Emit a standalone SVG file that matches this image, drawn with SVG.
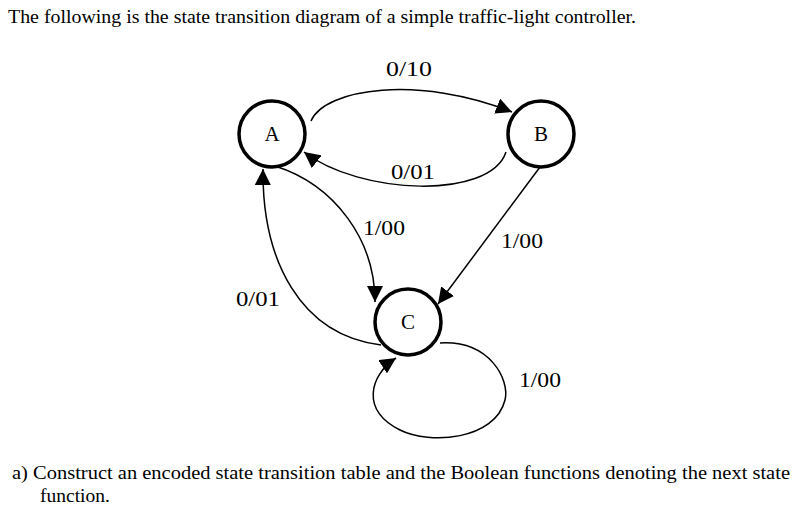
<svg xmlns="http://www.w3.org/2000/svg" width="811" height="514" viewBox="0 0 811 514">
<style>
text{font-family:"Liberation Serif",serif;fill:#000}
.t{font-size:19.5px}
.l{font-size:21px}
.n{fill:#fff;stroke:#000;stroke-width:3.5}
.e{fill:none;stroke:#000;stroke-width:1.5}
</style>
<defs><marker id="ah" viewBox="0 0 10 10" refX="10" refY="5" markerWidth="16" markerHeight="16" markerUnits="userSpaceOnUse" orient="auto"><path d="M0,0L10,5L0,10z"/></marker></defs>
<rect width="811" height="514" fill="#fff"/>
<text class="t" x="8" y="23" textLength="628" lengthAdjust="spacingAndGlyphs">The following is the state transition diagram of a simple traffic-light controller.</text>
<g id="edges">
<path class="e" d="M311,121 C325,88 420,75 512,112" marker-end="url(#ah)"/>
<path class="e" d="M506,152 C490,200 360,195 304,152" marker-end="url(#ah)"/>
<path class="e" d="M275,166 C335,185 375,240 375,302" marker-end="url(#ah)"/>
<path class="e" d="M381,345 C300,335 262,260 263,169" marker-end="url(#ah)"/>
<path class="e" d="M540,167 L438,304" marker-end="url(#ah)"/>
<path class="e" d="M440,343 C490,340 510,380 505,400 C495,440 430,445 400,430 C360,410 370,375 396,358" marker-end="url(#ah)"/>
</g>
<g id="A"><circle class="n" cx="272" cy="134" r="33"/><text class="l" x="272" y="141" text-anchor="middle">A</text></g>
<g id="B"><circle class="n" cx="541" cy="134" r="33"/><text class="l" x="541" y="141" text-anchor="middle">B</text></g>
<g id="C"><circle class="n" cx="408" cy="322" r="33"/><text class="l" x="408" y="329" text-anchor="middle">C</text></g>
<g id="labels">
<text class="l" x="409" y="76" text-anchor="middle" textLength="46" lengthAdjust="spacingAndGlyphs">0/10</text>
<text class="l" x="413" y="179" text-anchor="middle" textLength="44" lengthAdjust="spacingAndGlyphs">0/01</text>
<text class="l" x="384" y="235" text-anchor="middle" textLength="42" lengthAdjust="spacingAndGlyphs">1/00</text>
<text class="l" x="522" y="248" text-anchor="middle" textLength="42" lengthAdjust="spacingAndGlyphs">1/00</text>
<text class="l" x="258" y="306" text-anchor="middle" textLength="44" lengthAdjust="spacingAndGlyphs">0/01</text>
<text class="l" x="540" y="387" text-anchor="middle" textLength="42" lengthAdjust="spacingAndGlyphs">1/00</text>
</g>
<text class="t" x="12" y="479" textLength="778" lengthAdjust="spacingAndGlyphs">a)  Construct an encoded state transition table and the Boolean functions denoting the next state</text>
<text class="t" x="40" y="502">function.</text>
</svg>
